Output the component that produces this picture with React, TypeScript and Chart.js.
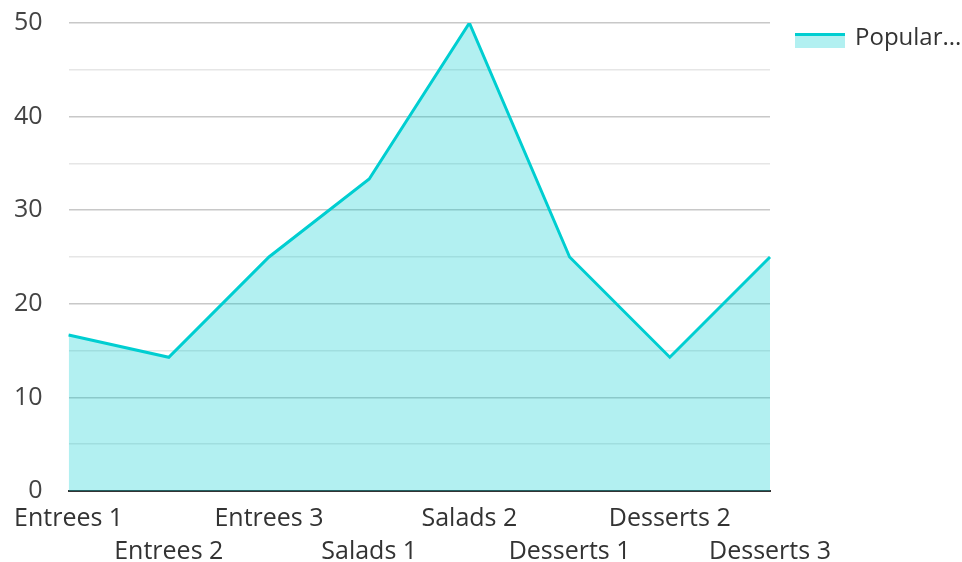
import React, { useEffect, useRef } from "react";
import { Chart, registerables } from "chart.js";

Chart.register(...registerables);

const categories = ["Entrees 1", "Entrees 2", "Entrees 3", "Salads 1", "Salads 2", "Desserts 1", "Desserts 2", "Desserts 3"];
const popularity = [16.67, 14.29, 25, 33.33, 50, 25, 14.29, 25];
const seriesName = "Popular...";
const yMax = 50;
const yStep = 5;

const LINE = "#00CED1";
const FILL = "rgba(0,206,209,0.3)";
const FONT = "'Open Sans', 'Noto Sans', sans-serif";

// Custom legend drawn beside the plot area (line over a filled swatch)
const sideLegendPlugin = {
  id: "sideLegend",
  afterDraw(chart: any) {
    const ca = chart.chartArea;
    const ctx = chart.ctx;
    const ds = chart.data.datasets[0];
    const x = ca.right + 25;
    const top = ca.top + 10;
    const bw = 50;
    const bh = 15;
    ctx.save();
    ctx.fillStyle = ds.backgroundColor;
    ctx.fillRect(x, top, bw, bh);
    ctx.strokeStyle = ds.borderColor;
    ctx.lineWidth = 3;
    ctx.beginPath();
    ctx.moveTo(x, top + 1.5);
    ctx.lineTo(x + bw, top + 1.5);
    ctx.stroke();
    ctx.fillStyle = "#333";
    ctx.font = `24px ${FONT}`;
    ctx.textBaseline = "middle";
    ctx.textAlign = "left";
    ctx.fillText(ds.label, x + bw + 10, top + 5);
    ctx.restore();
  },
};

export default function App() {
  const ref = useRef<HTMLCanvasElement>(null);
  useEffect(() => {
    if (!ref.current) return;
    const labels = categories.map((c, i) => (i % 2 === 0 ? [c] : ["", c]));
    const chart = new Chart(ref.current, {
      type: "line",
      data: {
        labels,
        datasets: [
          {
            label: seriesName,
            data: popularity,
            borderColor: LINE,
            backgroundColor: FILL,
            borderWidth: 3,
            fill: "origin",
            tension: 0,
            pointRadius: 0,
            pointHoverRadius: 0,
          },
        ],
      },
      options: {
        animation: false,
        responsive: true,
        maintainAspectRatio: false,
        layout: { padding: { left: 14, top: 23, right: 192, bottom: -6 } },
        plugins: {
          tooltip: { enabled: false },
          legend: { display: false },
        },
        scales: {
          x: {
            offset: false,
            grid: {
              display: true,
              drawOnChartArea: false,
              drawTicks: true,
              tickLength: 11,
              color: "rgba(0,0,0,0)",
              tickColor: "rgba(0,0,0,0)",
            },
            border: { display: true, color: "#333", width: 2 },
            ticks: {
              autoSkip: false,
              maxRotation: 0,
              minRotation: 0,
              padding: 0,
              color: "#333",
              font: { family: FONT, size: 25, lineHeight: 1.32 },
            },
          },
          y: {
            min: 0,
            max: yMax,
            border: { display: false },
            grid: {
              drawTicks: true,
              tickLength: 26,
              tickColor: "rgba(0,0,0,0)",
              color: (ctx: any) => (ctx.tick && ctx.tick.value % 10 === 0 ? "#c8c8c8" : "#e6e6e6"),
              lineWidth: 1.5,
            },
            ticks: {
              stepSize: yStep,
              padding: 0,
              color: "#444",
              font: { family: FONT, size: 25 },
              callback: (v: any) => (Number(v) % 10 === 0 ? String(v) : ""),
            },
          },
        },
      },
      plugins: [sideLegendPlugin],
    });
    return () => chart.destroy();
  }, []);
  return (
    <div style={{ position: "absolute", left: 0, top: 0, width: 962, height: 562 }}>
      <canvas ref={ref} />
    </div>
  );
}
